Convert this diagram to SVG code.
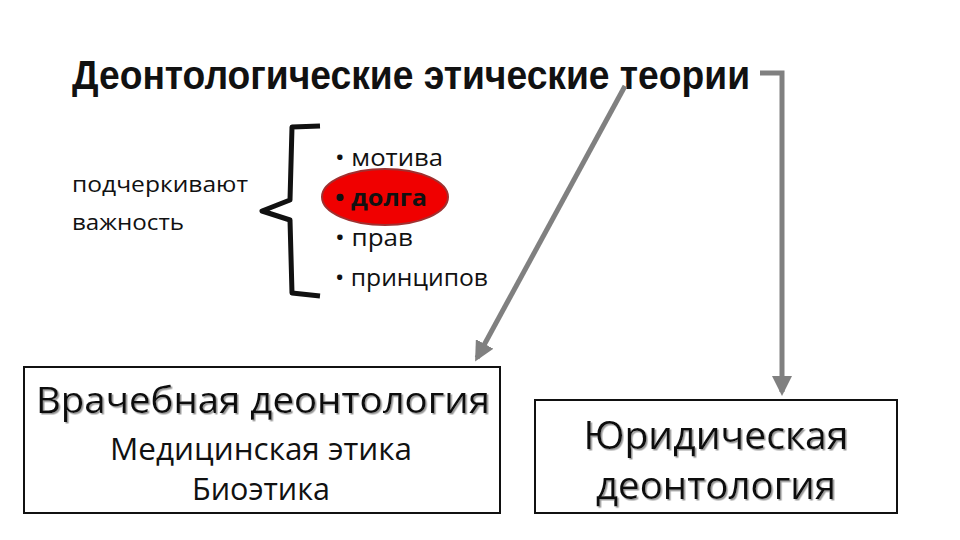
<svg xmlns="http://www.w3.org/2000/svg" width="960" height="540" viewBox="0 0 960 540">
<style>
.t{font-family:"Open Sans","Liberation Sans",sans-serif;fill:#111}
.box{fill:#fff;stroke:#111;stroke-width:2}
.con{fill:none;stroke:#808080;stroke-width:5}
</style>
<defs>
<marker id="ah" viewBox="0 0 10 10" refX="8" refY="5" markerWidth="4" markerHeight="4" orient="auto" markerUnits="strokeWidth">
<path d="M0,0 L10,5 L0,10 z" fill="#808080"/>
</marker>
<filter id="ds" x="-5%" y="-20%" width="110%" height="140%">
<feDropShadow dx="1.5" dy="1.5" stdDeviation="0.6" flood-color="#999"/>
</filter>
</defs>
<rect width="960" height="540" fill="#fff"/>
<g id="title">
<text class="t" x="72" y="89" font-size="40" font-weight="bold" textLength="678" lengthAdjust="spacingAndGlyphs" style="font-family:'Liberation Sans Narrow','Liberation Sans',sans-serif">Деонтологические этические теории</text>
</g>
<g id="emphasis">
<text class="t" x="72" y="192" font-size="22" textLength="176" lengthAdjust="spacingAndGlyphs">подчеркивают</text>
<text class="t" x="72" y="230" font-size="22" textLength="112" lengthAdjust="spacingAndGlyphs">важность</text>
</g>
<g id="brace">
<path d="M320,126 L292,127 L290,200 L262,211 L290,220 L292,293 L320,296" fill="none" stroke="#111" stroke-width="5" stroke-linejoin="round"/>
</g>
<g id="list">
<ellipse cx="385" cy="197" rx="63" ry="28" fill="#f00000" stroke="#a03030" stroke-width="2"/>
<text class="t" x="335" y="166" font-size="24" textLength="108" lengthAdjust="spacingAndGlyphs">• мотива</text>
<text class="t" x="335" y="206" font-size="23" font-weight="bold" textLength="92" lengthAdjust="spacingAndGlyphs">• долга</text>
<text class="t" x="335" y="246" font-size="24" textLength="78" lengthAdjust="spacingAndGlyphs">• прав</text>
<text class="t" x="335" y="286" font-size="24" textLength="153" lengthAdjust="spacingAndGlyphs">• принципов</text>
</g>
<g id="connectors">
<path class="con" d="M625,86 L477,358" marker-end="url(#ah)"/>
<path class="con" d="M760,73 L782,73 L782,392" marker-end="url(#ah)"/>
</g>
<g id="medical">
<rect class="box" x="24" y="367" width="476" height="146"/>
<text class="t" x="263" y="413" font-size="36" text-anchor="middle" filter="url(#ds)" textLength="454" lengthAdjust="spacingAndGlyphs">Врачебная деонтология</text>
<text class="t" x="261" y="460" font-size="31" text-anchor="middle" textLength="302" lengthAdjust="spacingAndGlyphs">Медицинская этика</text>
<text class="t" x="261" y="500" font-size="31" text-anchor="middle" textLength="138" lengthAdjust="spacingAndGlyphs">Биоэтика</text>
</g>
<g id="legal">
<rect class="box" x="535" y="400" width="362" height="113"/>
<text class="t" x="716" y="449" font-size="39" text-anchor="middle" filter="url(#ds)" textLength="265" lengthAdjust="spacingAndGlyphs">Юридическая</text>
<text class="t" x="716" y="499" font-size="39" text-anchor="middle" filter="url(#ds)" textLength="240" lengthAdjust="spacingAndGlyphs">деонтология</text>
</g>
</svg>
